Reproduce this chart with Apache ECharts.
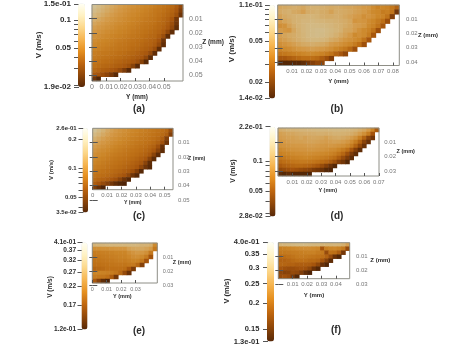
<!DOCTYPE html>
<html>
<head>
<meta charset="utf-8">
<style>
  html, body { margin: 0; padding: 0; background: #fff; }
  #chart { width: 474px; height: 353px; filter: blur(0.45px); }
</style>
<script src="https://cdn.jsdelivr.net/npm/echarts@6/dist/echarts.min.js"></script>
</head>
<body>
<div id="chart"></div>
<script>
// V in mm/s, one list per row from the top, a row stops where the white area starts
const valuesA = [
  [140,125,112,103,96,90,84,79,75,71,67,64,61,58,55,52,49,46,43,38,30],
  [128,116,106,98,91,85,80,75,71,67,64,61,58,55,52,50,47,44,41,36,27],
  [115,106,98,91,85,80,75,71,67,64,61,58,56,53,51,48,45,42,39,33,24],
  [104,97,90,84,79,75,71,67,64,61,58,56,53,51,49,46,43,40,35,25],
  [94,88,83,78,74,70,67,64,61,58,56,53,51,49,47,44,42,38,32,24],
  [86,81,77,73,70,66,63,61,58,56,53,51,49,47,45,43,40,36,30,22],
  [79,75,72,68,65,63,60,58,56,53,51,49,47,45,43,41,37,30,22],
  [73,70,67,64,61,59,57,55,53,51,49,47,45,43,42,38,32,22],
  [68,65,62,60,58,56,54,52,50,48,46,45,43,41,39,34,24],
  [64,61,59,57,55,53,51,50,48,46,45,43,41,40,37,31,22],
  [60,58,56,54,52,51,49,48,46,44,43,41,39,37,32,22],
  [56,54,52,51,49,48,46,45,43,42,40,38,36,31,22],
  [53,51,49,48,46,45,44,42,41,39,37,35,30,22],
  [50,48,46,45,44,42,41,39,38,36,33,28,21],
  [47,45,43,42,41,39,38,36,33,28,21],
  [43,41,39,38,36,34,31,26,21],
  [36,34,32,29,25,21],
  [24,20]
]
const valuesB = [
  [70,72,74,76,74,70,76,78,78,76,74,72,74,72,70,68,66,64,60,58,50,44,46,44,38,30],
  [72,76,78,72,70,64,74,76,78,74,72,66,74,74,72,70,66,64,60,54,48,46,40,42,36,18],
  [66,72,76,78,80,80,82,82,80,76,74,74,76,74,70,66,62,60,52,56,52,46,44,36,20],
  [62,68,72,78,80,84,84,86,84,82,80,80,78,76,74,70,56,58,56,50,46,40,34,24],
  [52,54,66,74,80,84,88,90,90,88,86,84,80,78,74,70,64,62,58,48,44,36,26],
  [62,58,56,70,78,84,88,92,94,94,90,86,82,78,70,68,62,54,48,44,36,24],
  [64,68,72,74,78,82,88,92,94,92,88,84,78,72,66,60,48,52,48,40,26],
  [60,64,68,72,76,80,84,86,86,84,80,74,70,64,58,54,50,46,36,26],
  [52,56,60,64,68,72,74,76,74,72,68,62,58,54,50,46,40,34,24],
  [44,48,50,54,58,60,62,64,62,60,56,52,46,42,38,32,24],
  [36,38,40,42,44,46,48,48,46,44,40,36,30,26,22],
  [26,26,28,30,32,34,34,34,32,28,24,20],
  [15,15,15,15,15,16,18,20,22,22]
]
const valuesC = [
  [245,215,190,170,155,143,133,125,118,112,107,102,98,94,90,86,82,76,58],
  [215,192,173,158,145,135,127,120,114,108,103,99,95,91,87,83,78,70,50],
  [185,170,155,143,133,125,118,112,107,102,98,94,90,87,83,78,70,50],
  [165,152,141,132,124,117,111,106,101,97,93,90,86,83,78,72,60,44],
  [148,138,129,121,115,109,104,100,96,92,88,85,82,77,72,60,42],
  [135,126,119,113,107,102,98,94,90,87,84,81,77,72,65,52,40],
  [124,117,111,105,100,96,92,89,86,83,80,76,72,65,52,40],
  [115,109,103,98,94,90,87,84,81,78,74,70,64,52,40],
  [107,102,97,93,89,86,83,80,77,73,69,64,52,40],
  [100,96,92,88,85,82,79,76,72,69,64,54,44,38],
  [94,90,86,83,80,77,74,70,66,60,50,38],
  [88,84,81,78,75,71,67,62,54,44,38],
  [80,76,73,69,65,60,52,43,38],
  [68,62,56,50,45,40,37,36],
  [48,41,36]
]
const valuesD = [
  [150,155,160,160,162,165,165,168,170,172,172,170,172,175,175,172,170,165,160,150,140,120,90,55],
  [130,135,140,140,145,148,150,150,152,155,155,152,155,160,160,158,155,150,140,125,105,80,50],
  [125,128,132,130,135,140,132,140,142,140,138,130,140,145,148,142,135,125,110,85,60,42,36],
  [115,120,125,128,130,130,132,135,135,132,128,125,128,132,130,125,115,100,80,60,42,34],
  [108,112,115,118,120,120,122,125,125,122,118,115,118,115,110,105,95,80,60,44,34],
  [95,100,105,108,110,112,112,115,115,112,110,105,100,98,90,80,68,52,40,32],
  [85,90,92,96,100,100,102,102,100,98,95,92,88,82,72,62,48,38,32],
  [74,78,82,85,88,90,92,90,88,85,82,78,72,66,56,46,38,32],
  [64,68,70,74,76,78,78,76,74,70,66,62,56,48,40,36,30],
  [54,58,60,62,64,64,62,60,56,52,46,40,34,30],
  [44,46,48,50,48,46,44,42,38,36,34,30,29],
  [32,30,32,30,30,30,30,29]
]
const valuesE = [
  [340,345,345,350,350,350,350,350,355,355,350,340,340,330,250],
  [260,262,265,265,270,275,275,275,300,310,315,315,305,290,220],
  [225,228,230,232,235,240,240,240,260,275,285,280,265,220],
  [218,220,222,225,228,232,235,235,245,258,262,250,225,170],
  [210,212,215,218,220,225,228,225,232,240,238,220,170],
  [205,205,208,210,212,215,215,212,218,220,195,150],
  [190,195,198,205,205,205,205,200,175,145],
  [240,240,235,230,225,215,195,160,135],
  [225,220,215,205,180,140],
  [175,150,130,122]
]
const valuesF = [
  [340,345,350,355,360,360,360,355,350,350,340,340,340,345,340,330,300],
  [235,240,245,250,255,258,260,260,255,250,180,235,245,250,240,225,170],
  [225,225,228,230,232,235,238,240,240,230,225,170,215,210,190,150],
  [205,208,212,218,225,228,225,222,220,215,210,195,170,145,135],
  [195,195,200,205,210,212,210,205,205,200,180,160,140],
  [200,198,195,195,190,190,190,188,180,165,145,135],
  [180,175,172,172,175,178,175,165,145,135],
  [165,160,162,168,165,155,140,132],
  [170,175,170,150,135]
]

// axis ticks, mm
const yTicksA = [0, 0.01, 0.02, 0.03, 0.04, 0.05]
const yTicksB = [0.01, 0.02, 0.03, 0.04, 0.05, 0.06, 0.07, 0.08]
const yTicksC = [0, 0.01, 0.02, 0.03, 0.04, 0.05]
const yTicksD = [0.01, 0.02, 0.03, 0.04, 0.05, 0.06, 0.07]
const yTicksE = [0, 0.01, 0.02, 0.03]
const yTicksF = [0.01, 0.02, 0.03, 0.04]
const zTicksA = [0.01, 0.02, 0.03, 0.04, 0.05]
const zTicksB = [0.01, 0.02, 0.03, 0.04]
const zTicksC = [0.01, 0.02, 0.03, 0.04, 0.05]
const zTicksD = [0.01, 0.02, 0.03]
const zTicksE = [0.01, 0.02, 0.03]
const zTicksF = [0.01, 0.02, 0.03]

// colour bar labels and unlabelled ticks, m/s
const barValuesA = [0.15, 0.1, 0.05, 0.019]
const barLabelsA = ['1.5e-01', '0.1', '0.05', '1.9e-02']
const barMinorA = [0.09, 0.08, 0.07, 0.06, 0.04, 0.03, 0.02]
const barValuesB = [0.11, 0.05, 0.02, 0.014]
const barLabelsB = ['1.1e-01', '0.05', '0.02', '1.4e-02']
const barMinorB = [0.1, 0.09, 0.08, 0.07, 0.06, 0.04, 0.03]
const barValuesC = [0.26, 0.2, 0.1, 0.05, 0.035]
const barLabelsC = ['2.6e-01', '0.2', '0.1', '0.05', '3.5e-02']
const barMinorC = [0.09, 0.08, 0.07, 0.06, 0.04]
const barValuesD = [0.22, 0.1, 0.05, 0.028]
const barLabelsD = ['2.2e-01', '0.1', '0.05', '2.8e-02']
const barMinorD = [0.09, 0.08, 0.07, 0.06, 0.04, 0.03]
const barValuesE = [0.41, 0.37, 0.32, 0.27, 0.22, 0.17, 0.12]
const barLabelsE = ['4.1e-01', '0.37', '0.32', '0.27', '0.22', '0.17', '1.2e-01']
const barMinorE = []
const barValuesF = [0.4, 0.35, 0.3, 0.25, 0.2, 0.15, 0.13]
const barLabelsF = ['4.0e-01', '0.35', '0.3', '0.25', '0.2', '0.15', '1.3e-01']
const barMinorF = []

const barColors = ['#572808', '#8f4709', '#bf660f', '#e58f1f', '#f6b551', '#fcd88c', '#fff2c4', '#fffff4']
const heatColors = ['#4a2207', '#7a3a08', '#a5540c', '#bd6f16', '#cc8628', '#d49a48', '#d4b478', '#d0c49c']
const fontFamily = '"Liberation Sans", Arial, sans-serif'

const panels = [
  { name: '(a)', values: valuesA, yTicks: yTicksA, zTicks: zTicksA, barValues: barValuesA, barLabels: barLabelsA, barMinor: barMinorA,
    plot: [92, 4.5, 91, 76.5], zLast: 75.5, yPerTick: 14.35, bar: [78, 3.5, 7, 83.5],
    barFont: 8, tickFont: 7, titleFont: 6.5, vFont: 8, letterFont: 10,
    vPos: [39, 45], yPos: [137, 97], zPos: [213, 42], letterPos: [139, 109], labelGap: 8, zGap: 6 },
  { name: '(b)', values: valuesB, yTicks: yTicksB, zTicks: zTicksB, barValues: barValuesB, barLabels: barLabelsB, barMinor: barMinorB,
    plot: [277.7, 5, 121.6, 60.5], zLast: 62, yPerTick: 14.4, bar: [269, 5, 6, 93.5],
    barFont: 7, tickFont: 6, titleFont: 6, vFont: 8, letterFont: 10,
    vPos: [232, 49], yPos: [338.5, 81], zPos: [428, 35], letterPos: [337, 109], labelGap: 7.3, zGap: 6.7 },
  { name: '(c)', values: valuesC, yTicks: yTicksC, zTicks: zTicksC, barValues: barValuesC, barLabels: barLabelsC, barMinor: barMinorC,
    plot: [92.7, 128.3, 80.3, 61.4], zLast: 200, yPerTick: 14.4, bar: [82.5, 128, 5.5, 84.5],
    barFont: 6, tickFont: 6, titleFont: 5.2, vFont: 6, letterFont: 10,
    vPos: [51, 170], yPos: [132.7, 202.3], zPos: [196.7, 158.7], letterPos: [139, 216], labelGap: 6.8, zGap: 5 },
  { name: '(d)', values: valuesD, yTicks: yTicksD, zTicks: zTicksD, barValues: barValuesD, barLabels: barLabelsD, barMinor: barMinorD,
    plot: [278, 128, 101, 48], zLast: 171, yPerTick: 14.4, bar: [269.5, 126.7, 6, 89.8],
    barFont: 7, tickFont: 6, titleFont: 5.5, vFont: 7, letterFont: 10,
    vPos: [233, 171], yPos: [327.7, 190.7], zPos: [405.7, 151], letterPos: [337, 216.7], labelGap: 7.8, zGap: 5.3 },
  { name: '(e)', values: valuesE, yTicks: yTicksE, zTicks: zTicksE, barValues: barValuesE, barLabels: barLabelsE, barMinor: barMinorE,
    plot: [92.3, 243, 65, 40], zLast: 285.3, yPerTick: 14.4, bar: [81.5, 242.5, 6, 87],
    barFont: 6.5, tickFont: 5.5, titleFont: 5.5, vFont: 6.5, letterFont: 10,
    vPos: [50, 287], yPos: [122.3, 296], zPos: [182, 262.3], letterPos: [139, 331], labelGap: 6.5, zGap: 5.4 },
  { name: '(f)', values: valuesF, yTicks: yTicksF, zTicks: zTicksF, barValues: barValuesF, barLabels: barLabelsF, barMinor: barMinorF,
    plot: [278.3, 242.7, 71.4, 36], zLast: 284, yPerTick: 14.4, bar: [267, 242, 7, 99.5],
    barFont: 7.5, tickFont: 6, titleFont: 6, vFont: 7.5, letterFont: 10,
    vPos: [227, 291], yPos: [314, 295.7], zPos: [380.3, 260], letterPos: [336, 330.3], labelGap: 8.7, zGap: 6.3 }
]

const grid = []
const xAxis = []
const yAxis = []
const series = []
const visualMap = []
const graphic = []

const addText = (text, pos, size, rotation) => {
  graphic.push({
    type: 'text', x: pos[0], y: pos[1], rotation: rotation || 0,
    style: { text, fontFamily, fontSize: size, fontWeight: 'bold', fill: '#2b2b2b', align: 'center', verticalAlign: 'middle' }
  })
}

panels.forEach((p, i) => {
  const [px, py, pw, ph] = p.plot
  const rowCount = p.values.length
  const colCount = Math.max(...p.values.map((r) => r.length))
  const barMax = Math.log10(p.barValues[0])
  const barMin = Math.log10(p.barValues[p.barValues.length - 1])
  const heatData = []
  p.values.forEach((row, r) => row.forEach((v, c) => heatData.push([c, r, Math.log10(v / 1000)])))

  // heat cells
  const heatGrid = grid.length
  grid.push({ left: px, top: py, width: pw, height: ph })
  xAxis.push({ gridIndex: heatGrid, type: 'category', show: false, data: [...Array(colCount).keys()] })
  yAxis.push({ gridIndex: heatGrid, type: 'category', show: false, inverse: true, data: [...Array(rowCount).keys()] })
  series.push({
    type: 'heatmap', xAxisIndex: xAxis.length - 1, yAxisIndex: yAxis.length - 1,
    data: heatData, progressive: 0, animation: false, emphasis: { disabled: true }
  })
  visualMap.push({
    show: false, type: 'continuous', seriesIndex: i, dimension: 2,
    min: barMin, max: barMax, inRange: { color: heatColors }
  })

  // frame and Y axis
  const frameGrid = grid.length
  grid.push({ left: px, top: py, width: pw, height: ph, show: true, z: 3, borderColor: '#8e8e86', borderWidth: 1, backgroundColor: 'transparent' })
  xAxis.push({
    gridIndex: frameGrid, type: 'value', position: 'bottom', min: 0, max: (pw / p.yPerTick) * 0.01, z: 4,
    axisLine: { show: false }, splitLine: { show: false },
    axisTick: { inside: true, length: 3, customValues: p.yTicks, lineStyle: { color: '#555' } },
    axisLabel: { customValues: p.yTicks, margin: 3, color: '#777', fontFamily, fontSize: p.tickFont, hideOverlap: false, formatter: (v) => String(v) }
  })
  yAxis.push({ gridIndex: frameGrid, type: 'value', show: false, min: 0, max: 1 })

  // Z axis, can run below the plot
  const zGrid = grid.length
  const zMax = p.zTicks[p.zTicks.length - 1]
  grid.push({ left: px, top: py, width: pw, height: p.zLast - py })
  xAxis.push({ gridIndex: zGrid, type: 'value', show: false, min: 0, max: 1 })
  yAxis.push({
    gridIndex: zGrid, type: 'value', position: 'right', inverse: true, min: 0, max: zMax, z: 4,
    axisLine: { show: false }, splitLine: { show: false },
    axisTick: { length: 5, customValues: p.zTicks, lineStyle: { color: '#555' } },
    axisLabel: { customValues: p.zTicks, margin: p.zGap, color: '#777', fontFamily, fontSize: p.tickFont, hideOverlap: false, formatter: (v) => String(v) }
  })
  xAxis.push({ gridIndex: zGrid, type: 'value', show: false, min: 0, max: 1 })
  yAxis.push({
    gridIndex: zGrid, type: 'value', position: 'right', inverse: true, min: 0, max: zMax, z: 4,
    axisLine: { show: false }, splitLine: { show: false },
    axisTick: { inside: true, length: 3, customValues: p.zTicks, lineStyle: { color: '#555' } },
    axisLabel: { show: false }
  })

  // colour bar with log spaced ticks
  const [bx, by, bw, bh] = p.bar
  const logLabels = p.barValues.map((v) => Math.log10(v))
  const logTicks = logLabels.concat(p.barMinor.map((v) => Math.log10(v)))
  visualMap.push({
    show: true, type: 'continuous', seriesIndex: [], dimension: 0, padding: 0,
    min: barMin, max: barMax, left: bx, top: by, itemWidth: bw, itemHeight: bh,
    calculable: false, hoverLink: false, text: ['', ''], inRange: { color: barColors }
  })
  const barGrid = grid.length
  grid.push({ left: bx + 1, top: by, width: bw - 1, height: bh })
  xAxis.push({ gridIndex: barGrid, type: 'value', show: false, min: 0, max: 1 })
  yAxis.push({
    gridIndex: barGrid, type: 'value', position: 'left', min: barMin, max: barMax,
    axisLine: { show: false }, splitLine: { show: false },
    axisTick: { length: 5, customValues: logTicks, lineStyle: { color: '#555' } },
    axisLabel: {
      customValues: logLabels, margin: p.labelGap, color: '#2b2b2b', fontFamily, fontWeight: 'bold',
      fontSize: p.barFont, hideOverlap: false,
      formatter: (v) => p.barLabels[logLabels.findIndex((l) => Math.abs(l - v) < 1e-6)]
    }
  })

  addText('V (m/s)', p.vPos, p.vFont, Math.PI / 2)
  addText('Y (mm)', p.yPos, p.titleFont)
  addText('Z (mm)', p.zPos, p.titleFont)
  addText(p.name, p.letterPos, p.letterFont)
})

const chart = echarts.init(document.getElementById('chart'), null, { renderer: 'canvas' })
chart.setOption({
  animation: false,
  backgroundColor: '#fff',
  grid, xAxis, yAxis, series, visualMap, graphic
})
</script>
</body>
</html>
